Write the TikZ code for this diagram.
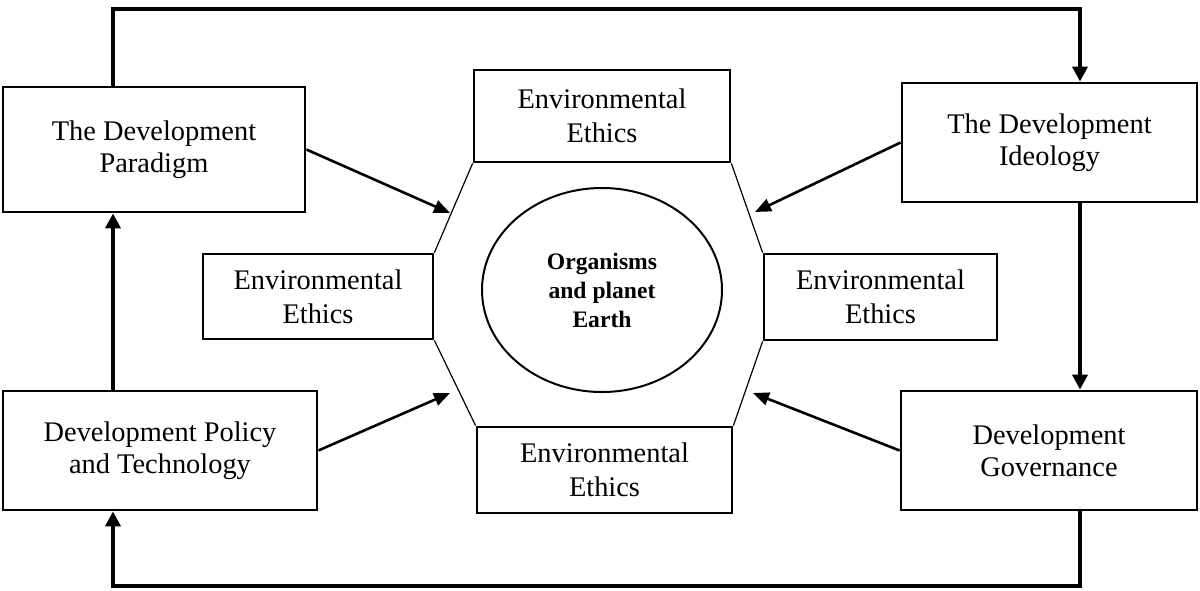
\documentclass[tikz,border=0pt]{standalone}
\usepackage{fontspec}
\setmainfont{Liberation Serif}
\usetikzlibrary{arrows.meta, shapes.geometric}

\begin{document}
\begin{tikzpicture}[x=0.5pt, y=-0.5pt,
    box/.style={draw, line width=1.4pt, align=center, inner sep=0pt,
      font=\fontsize{14.2pt}{16pt}\selectfont},
    ethics/.style={box, font=\fontsize{14.2pt}{17pt}\selectfont},
    loopline/.style={line width=2pt, -{Triangle[length=7.5pt, width=7.5pt]}},
    inarrow/.style={line width=1.3pt, -{Triangle[length=8pt, width=6.5pt]}},
    hexline/.style={line width=0.6pt}]
    \useasboundingbox (0,0) rectangle (1200,590);

    \node[box, minimum width=151pt, minimum height=62.5pt] (para) at (154,149.5) {The Development\\Paradigm};
    \node[box, minimum width=147.5pt, minimum height=59.5pt] (ideo) at (1049.5,142.5) {The Development\\Ideology};
    \node[box, minimum width=157pt, minimum height=59.5pt] (pol) at (160,450.5) {Development Policy\\and Technology};
    \node[box, minimum width=148pt, minimum height=59.5pt] (gov) at (1049,450.5) {Development\\Governance};

    \node[ethics, minimum width=128pt, minimum height=46pt] (etop) at (602,116) {Environmental\\Ethics};
    \node[ethics, minimum width=127.5pt, minimum height=43pt] (ebot) at (604.5,470) {Environmental\\Ethics};
    \node[ethics, minimum width=115pt, minimum height=42.5pt] (eleft) at (318,296.5) {Environmental\\Ethics};
    \node[ethics, minimum width=116.5pt, minimum height=43pt] (eright) at (880.5,297) {Environmental\\Ethics};

    \node[ellipse, draw, line width=1pt, minimum width=120pt, minimum height=102pt, align=center,
      font=\bfseries\fontsize{11.8pt}{14.5pt}\selectfont] (earth) at (602,290) {Organisms\\and planet\\Earth};

    \coordinate (lcol) at (113,0);
    \coordinate (rcol) at (1080,0);
    \coordinate (ttop) at (0,9);
    \coordinate (tbot) at (0,586);

    \coordinate (tipA) at (450,213);
    \coordinate (tipB) at (755,212);
    \coordinate (tipC) at (450,393);
    \coordinate (tipD) at (753,393);

    % hexagon round the earth
    \draw[hexline] (etop.south west) -- (eleft.north east);
    \draw[hexline] (eleft.south east) -- (ebot.north west);
    \draw[hexline] (etop.south east) -- (eright.north west);
    \draw[hexline] (eright.south west) -- (ebot.north east);

    \draw[inarrow] (para.east) -- (tipA);
    \draw[inarrow] (ideo.west) -- (tipB);
    \draw[inarrow] (pol.east) -- (tipC);
    \draw[inarrow] (gov.west) -- (tipD);

    % outer cycle
    \draw[loopline] (para.north -| lcol) -- (ttop -| lcol) -- (ttop -| rcol) -- (ideo.north -| rcol);
    \draw[loopline] (ideo.south -| rcol) -- (gov.north -| rcol);
    \draw[loopline] (gov.south -| rcol) -- (tbot -| rcol) -- (tbot -| lcol) -- (pol.south -| lcol);
    \draw[loopline] (pol.north -| lcol) -- (para.south -| lcol);
  \end{tikzpicture}
\end{document}
